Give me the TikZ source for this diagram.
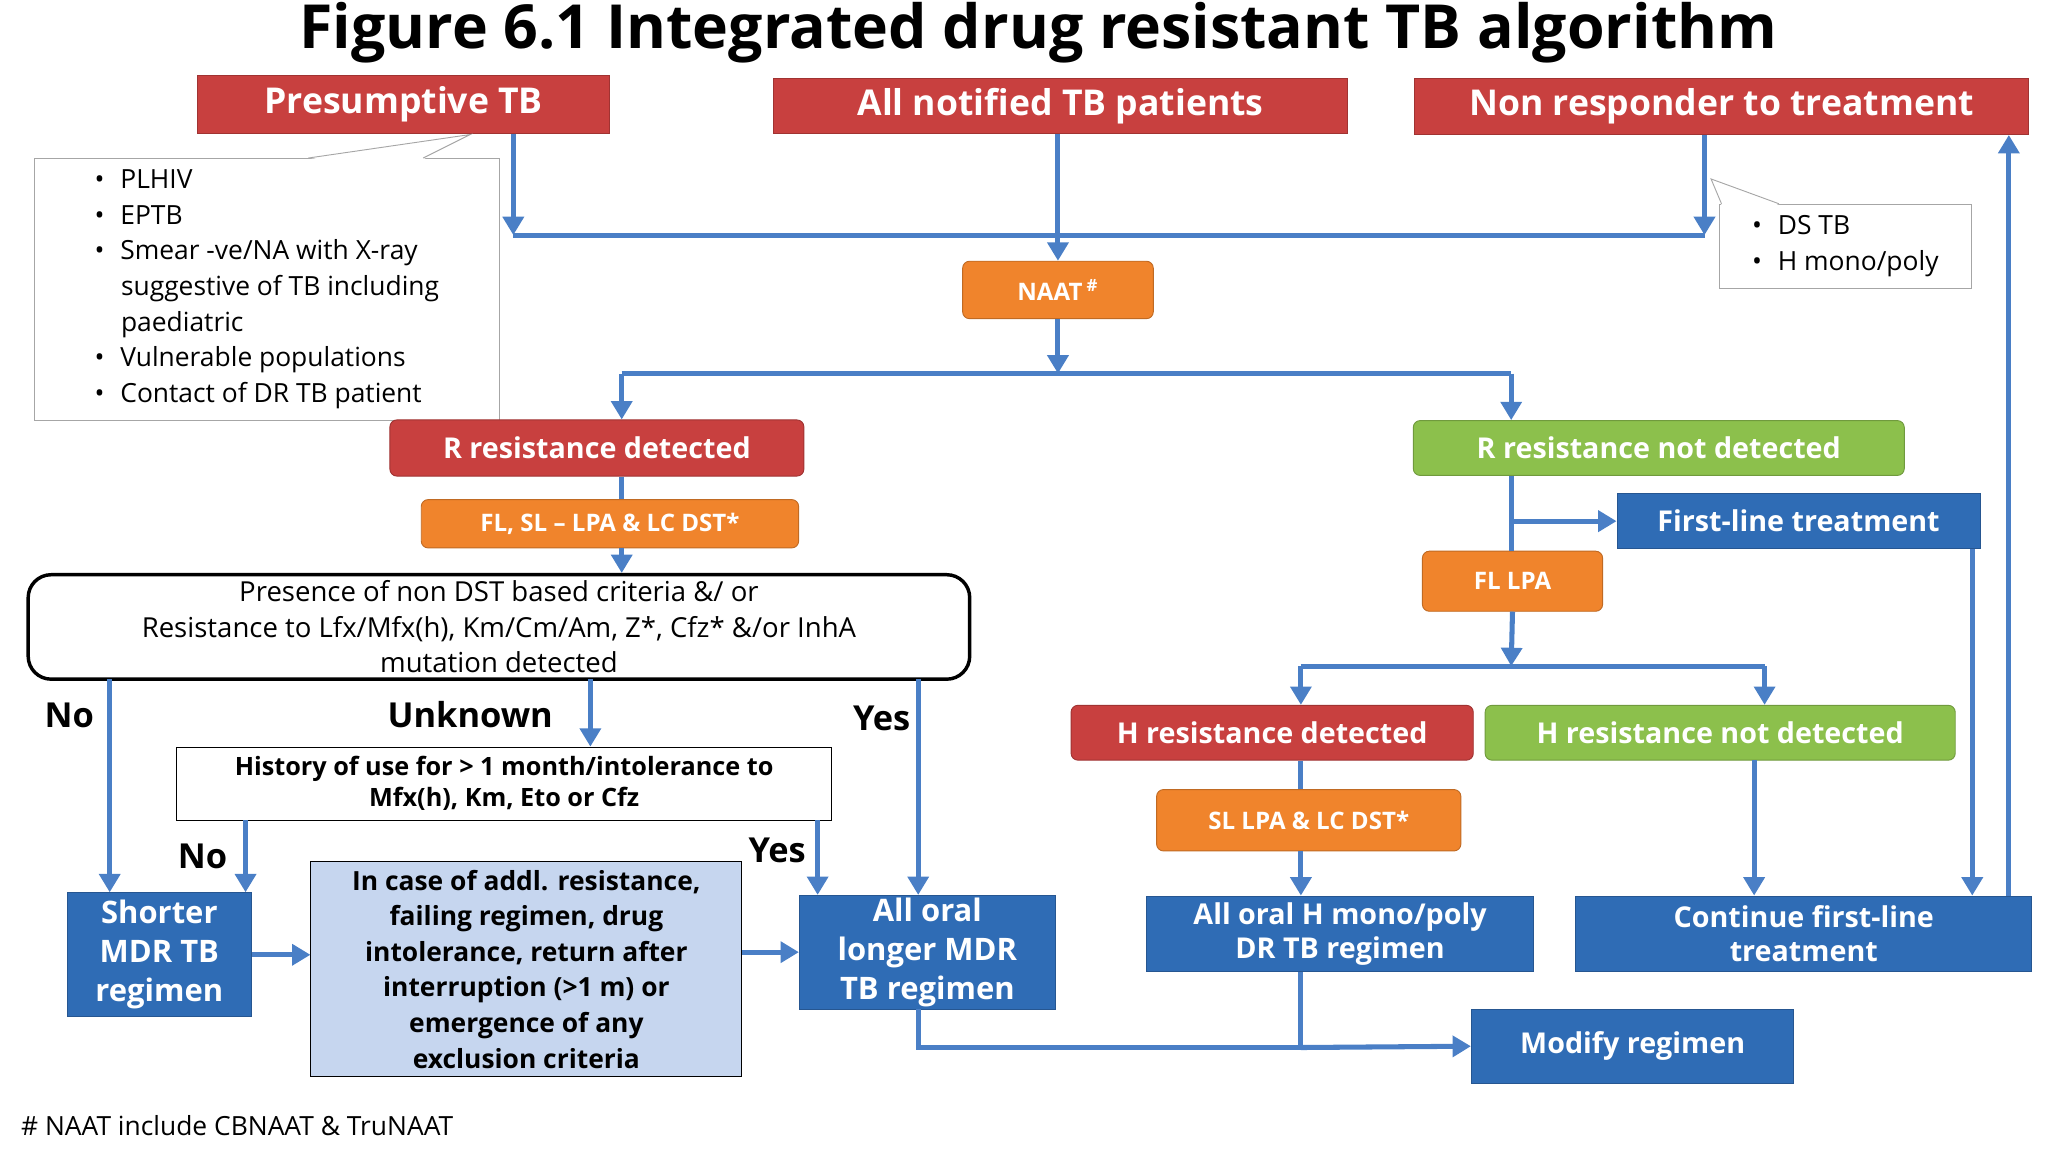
\documentclass[tikz,border=0pt]{standalone}
\usepackage{fontspec}
\setmainfont{Open Sans}
\usetikzlibrary{positioning,arrows.meta}
\definecolor{tbred}{HTML}{C8403F}
\definecolor{tborange}{HTML}{F0842C}
\definecolor{tbgreen}{HTML}{8CC04C}
\definecolor{tbblue}{HTML}{2F6CB5}
\definecolor{tblight}{HTML}{C6D6EF}
\definecolor{tbarrow}{HTML}{4A7FC6}

\begin{document}
\begin{tikzpicture}[
  x=0.02cm, y=-0.02cm,
  box/.style={draw=#1!80!black, fill=#1, text=white, font=\bfseries\fontsize{12.5}{15}\selectfont,
    inner sep=1pt, align=center},
  top/.style={box=tbred, font=\bfseries\fontsize{15.5}{19}\selectfont},
  org/.style={box=tborange, rounded corners=3pt, font=\bfseries\fontsize{10.5}{13}\selectfont},
  note/.style={draw=gray!70, fill=white, align=left, font=\fontsize{11.5}{15.5}\selectfont, inner sep=5pt},
  ln/.style={draw=tbarrow, line width=2.2pt},
  arr/.style={ln, -{Triangle[length=8pt,width=9pt]}},
  lab/.style={font=\bfseries\fontsize{15}{18}\selectfont}
]
\useasboundingbox (0,0) rectangle (1568,882);

\node[font=\bfseries\fontsize{26.5}{30}\selectfont] (title) at (795,25) {Figure 6.1 Integrated drug resistant TB algorithm};

% top row
\node[top, minimum width=6.32cm, minimum height=0.88cm] (pres) at (309,80) {Presumptive TB};
\node[top, minimum width=8.8cm, minimum height=0.84cm] (notif) at (812,81) {All notified TB patients};
\node[top, minimum width=9.4cm, minimum height=0.86cm] (nonresp) at (1318,81.5) {Non responder to treatment};

% notes
\node[note, minimum width=7.12cm, minimum height=3.84cm, anchor=north west] (lbul) at (26,121)
  {\textbullet\hspace{0.6em}PLHIV\\
   \textbullet\hspace{0.6em}EPTB\\
   \textbullet\hspace{0.6em}Smear -ve/NA with X-ray\\
   \hspace{1.0em}suggestive of TB including\\
   \hspace{1.0em}paediatric\\
   \textbullet\hspace{0.6em}Vulnerable populations\\
   \textbullet\hspace{0.6em}Contact of DR TB patient};
\fill[white] (236,122) -- (360,103) -- (324,122) -- cycle;
\draw[gray!70] (236,121) -- (360,103) -- (324,121);
\node[note, minimum width=3.86cm, minimum height=1.2cm, anchor=north west] (rbul) at (1316,156)
  {\textbullet\hspace{0.6em}DS TB\\ \textbullet\hspace{0.6em}H mono/poly};
\fill[white] (1318,157) -- (1310,137) -- (1362,157) -- cycle;
\draw[gray!70] (1318,156) -- (1310,137) -- (1362,156);

% NAAT and R branch
\node[org, minimum width=2.92cm, minimum height=0.88cm] (naat) at (810,222) {NAAT\,\textsuperscript{\#}};
\node[box=tbred, rounded corners=3pt, minimum width=6.34cm, minimum height=0.86cm] (rdet) at (457,343) {R resistance detected};
\node[box=tbgreen, rounded corners=3pt, minimum width=7.52cm, minimum height=0.84cm] (rnot) at (1270,343) {R resistance not detected};
\node[org, minimum width=5.78cm, minimum height=0.74cm] (flsl) at (467,401) {FL, SL -- LPA \& LC DST*};
\node[draw, line width=1.5pt, rounded corners=10pt, minimum width=14.42cm, minimum height=1.6cm,
  align=center, font=\fontsize{12}{15.5}\selectfont, inner sep=1pt] (big) at (382,480)
  {Presence of non DST based criteria \&/ or\\
   Resistance to Lfx/Mfx(h), Km/Cm/Am, Z*, Cfz* \&/or InhA\\
   mutation detected};
\node[box=tbblue, minimum width=5.56cm, minimum height=0.84cm] (flt) at (1377,399) {First-line treatment};
\node[org, minimum width=2.76cm, minimum height=0.92cm] (fllpa) at (1158,445) {FL LPA};
\node[box=tbred, rounded corners=3pt, minimum width=6.16cm, minimum height=0.84cm] (hdet) at (974,561) {H resistance detected};
\node[box=tbgreen, rounded corners=3pt, minimum width=7.2cm, minimum height=0.84cm] (hnot) at (1317,561) {H resistance not detected};
\node[org, minimum width=4.66cm, minimum height=0.94cm] (sllpa) at (1002,628) {SL LPA \& LC DST*};
\node[box=tbblue, minimum width=5.92cm, minimum height=1.16cm] (hmono) at (1026,715) {All oral H mono/poly\\DR TB regimen};
\node[box=tbblue, minimum width=6.98cm, minimum height=1.16cm] (cont) at (1381,715) {Continue first-line\\treatment};
\node[box=tbblue, minimum width=4.94cm, minimum height=1.14cm] (modify) at (1250,801) {Modify regimen};

% lower left
\node[draw, fill=white, minimum width=10.04cm, minimum height=1.12cm, align=center,
  font=\bfseries\fontsize{11}{13.5}\selectfont] (hist) at (386,600)
  {History of use for > 1 month/intolerance to\\Mfx(h), Km, Eto or Cfz};
\node[box=tbblue, minimum width=2.82cm, minimum height=1.9cm, font=\bfseries\fontsize{13.5}{17}\selectfont] (shorter) at (122,731) {Shorter\\MDR TB\\regimen};
\node[draw, fill=tblight, minimum width=6.6cm, minimum height=3.3cm, align=center,
  font=\bfseries\fontsize{11.5}{15.5}\selectfont] (incase) at (403,742)
  {In case of addl. resistance,\\failing regimen, drug\\intolerance, return after\\interruption (>1 m) or\\emergence of any\\exclusion criteria};
\node[box=tbblue, minimum width=3.92cm, minimum height=1.74cm, font=\bfseries\fontsize{13.5}{17}\selectfont] (longer) at (710,729) {All oral\\longer MDR\\TB regimen};

\node[lab] (no1) at (53,548) {No};
\node[lab] (unk) at (360,547) {Unknown};
\node[lab] (yes1) at (675,550) {Yes};
\node[lab] (no2) at (155,656) {No};
\node[lab] (yes2) at (595,651) {Yes};

\node[anchor=west, font=\fontsize{11.5}{14}\selectfont] (foot) at (10,862) {\# NAAT include CBNAAT \& TruNAAT};

% junctions
\coordinate (j1) at (393,180);
\coordinate (j2) at (1305,180);
\coordinate (j3) at (476,286);
\coordinate (j4) at (1157,286);
\coordinate (j5) at (1157,399);
\coordinate (j6) at (1157,510);
\coordinate (j7) at (996,510);
\coordinate (j8) at (1351,510);
\coordinate (j9) at (996,802);
\coordinate (k1) at (84,520);
\coordinate (k2) at (452,520);
\coordinate (k3) at (703,520);
\coordinate (k4) at (188,628);
\coordinate (k5) at (626,628);
\coordinate (m1) at (1343,582);
\coordinate (m2) at (1510,420);
\coordinate (m3) at (1538,686);

% top connectors
\draw[arr] (pres.south -| j1) -- (j1);
\draw[arr] (nonresp.south -| j2) -- (j2);
\draw[ln] (j1) -- (j2);
\draw[arr] (notif.south -| naat) -- (naat.north);
\draw[arr] (naat.south) -- (naat.south |- j3);
\draw[ln] (j3) -- (j4);
\draw[arr] (j3) -- (j3 |- rdet.north);
\draw[arr] (j4) -- (j4 |- rnot.north);

% R resistance detected
\draw[ln] (rdet.south -| j3) -- (flsl.north -| j3);
\draw[arr] (flsl.south -| j3) -- (big.north -| j3);
\draw[arr] (k1) -- (k1 |- shorter.north);
\draw[arr] (k2) -- (k2 |- hist.north);
\draw[arr] (k3) -- (k3 |- longer.north);
\draw[arr] (k4) -- (k4 |- shorter.north);
\draw[arr] (k5) -- (k5 |- longer.north);
\draw[arr] (shorter.east) -- (shorter.east -| incase.west);
\draw[arr] (incase.east |- longer.west) -- (longer.west);
\draw[ln] (longer.south -| k3) -- (j9 -| k3) -- (j9);
\draw[arr] (j9) -- (modify.west);

% R resistance not detected
\draw[ln] (rnot.south -| j4) -- (fllpa.north -| j4);
\draw[arr] (j5) -- (flt.west);
\draw[arr] (fllpa.south) -- (j6);
\draw[ln] (j7) -- (j8);
\draw[arr] (j7) -- (j7 |- hdet.north);
\draw[arr] (j8) -- (j8 |- hnot.north);
\draw[ln] (hdet.south -| j7) -- (sllpa.north -| j7);
\draw[arr] (sllpa.south -| j7) -- (hmono.north -| j7);
\draw[ln] (hmono.south -| j9) -- (j9);
\draw[arr] (m1) -- (m1 |- cont.north);
\draw[arr] (m2) -- (m2 |- cont.north);
\draw[arr] (m3) -- (m3 |- nonresp.south);
\end{tikzpicture}
\end{document}
